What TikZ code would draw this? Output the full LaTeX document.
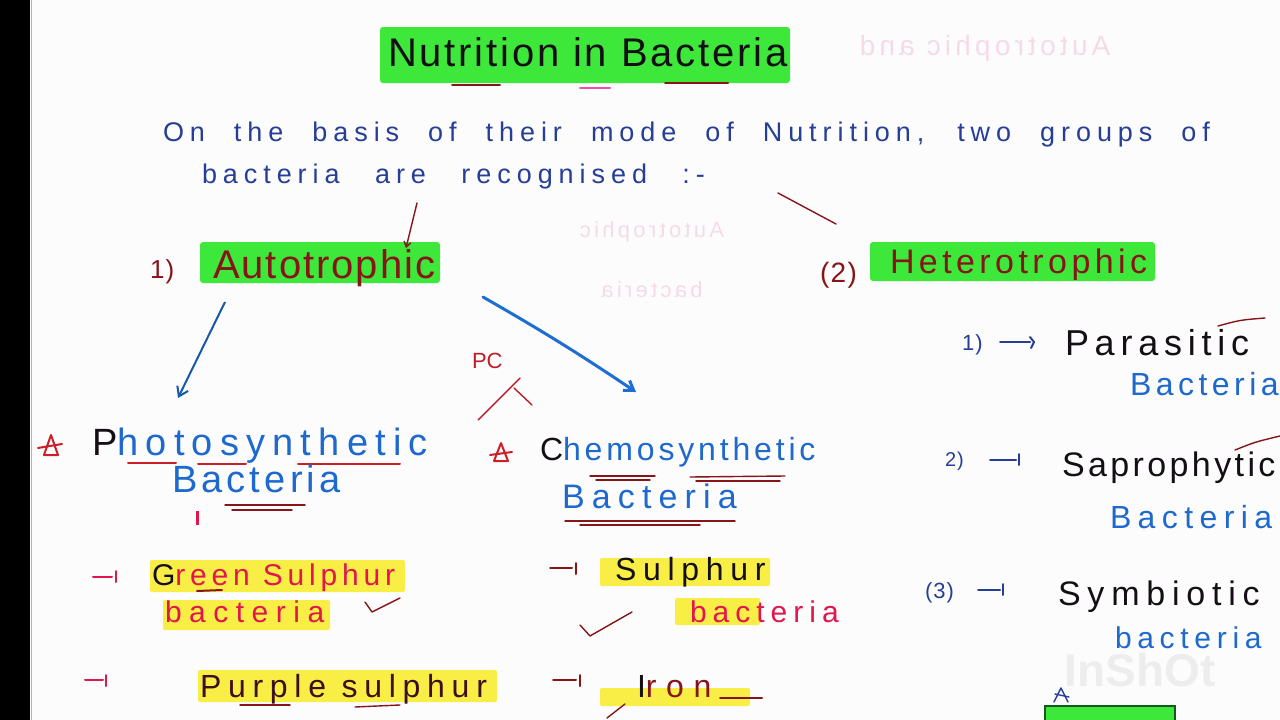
\documentclass[tikz,border=0pt]{standalone}
\usepackage{fontspec}
\setmainfont{Liberation Sans}
\usetikzlibrary{arrows.meta,calc}
\definecolor{greenhl}{RGB}{62,232,58}
\definecolor{darkgreen}{RGB}{20,90,30}
\definecolor{yellowhl}{RGB}{248,238,70}
\definecolor{darkred}{RGB}{135,20,25}
\definecolor{inkred}{RGB}{205,30,40}
\definecolor{parablue}{RGB}{38,62,150}
\definecolor{brightblue}{RGB}{30,105,205}
\definecolor{crimson}{RGB}{226,22,78}
\definecolor{inkblack}{RGB}{20,15,20}
\definecolor{darkink}{RGB}{60,15,25}
\definecolor{pagebg}{RGB}{252,252,252}
\definecolor{faintpink}{RGB}{232,140,185}
\definecolor{arrowblue}{RGB}{30,110,210}
\newcommand\hw[2]{\fontsize{#1}{#1}\selectfont\addfontfeature{LetterSpace=#2}}
\begin{document}
\begin{tikzpicture}[x=1pt,y=-1pt,
  txt/.style={anchor=base west,inner sep=0pt,outer sep=0pt},
  pen/.style={line width=2pt,line cap=round,line join=round},
  thinpen/.style={line width=1.4pt,line cap=round,line join=round},
  ghost/.style={inner sep=0pt,text=faintpink,opacity=.3,xscale=-1},
  hlg/.style={fill=greenhl,rounded corners=3pt},
  hly/.style={fill=yellowhl,rounded corners=2pt}]
\useasboundingbox (0,0) rectangle (1280,720);
\fill[pagebg] (0,0) rectangle (1280,720);
\fill[black] (0,0) rectangle (30,720);
\draw[gray!60,line width=1pt] (31,0) -- (31,720);

% faint bleed-through text
\node[ghost,font=\hw{28}{15}] (g1) at (985,48) {Autotrophic and};
\node[ghost,font=\hw{22}{15}] (g2) at (652,232) {Autotrophic};
\node[ghost,font=\hw{22}{15}] (g3) at (652,290) {bacteria};

% title
\fill[hlg] (380,27) rectangle (790,83);
\node[txt,text=inkblack,font=\hw{40}{7}] (title) at (388,66) {Nutrition in Bacteria};
\draw[pen,darkred] (452,85) -- (500,85);
\draw[pen,magenta!70] (580,88) -- (610,88);
\draw[pen,darkred] (665,83) -- (728,83);

% paragraph
\node[txt,text=parablue,font=\hw{27}{22}] (p1) at (163,141)
  {\makebox[1047pt][s]{On the basis of their mode of Nutrition, two groups of}};
\node[txt,text=parablue,font=\hw{27}{22}] (p2) at (202,183)
  {\makebox[503pt][s]{bacteria are recognised :-}};

% Autotrophic
\fill[hlg] (200,242) rectangle (440,283);
\node[txt,text=darkred,font=\hw{26}{5}] (n1) at (150,278) {1)};
\node[txt,text=darkred,font=\hw{40}{5}] (auto) at (213,278) {Autotrophic};
\coordinate (tkA) at (417,203);
\coordinate (tkB) at (406,248);
\draw[thinpen,darkred,-{Straight Barb[length=5pt,width=7pt]}] (tkA) -- (tkB);
\coordinate (slA) at (778,193);
\coordinate (slB) at (836,224);
\draw[thinpen,darkred] (slA) -- (slB);

% Heterotrophic
\fill[hlg] (870,242) rectangle (1155,281);
\node[txt,text=darkred,font=\hw{28}{5}] (n2) at (820,282) {(2)};
\node[txt,text=darkred,font=\hw{34}{13}] (hetero) at (890,273) {Heterotrophic};

% blue arrows
\coordinate (l1) at (225,302);
\coordinate (l2) at (178,398);
\draw[line width=2pt,arrowblue!80!black,-{Straight Barb[length=9pt,width=12pt]}] (l1) -- (l2);
\coordinate (r1) at (483,297);
\coordinate (r2) at (636,392);
\draw[line width=3pt,arrowblue,line cap=round,-{Straight Barb[length=9pt,width=12pt]}] (r1) to[bend left=2] (r2);

% PC scribble
\node[txt,text=inkred!80!darkred,font=\hw{22}{0}] (pc) at (472,368) {PC};
\coordinate (pcA) at (478,420);
\coordinate (pcB) at (520,378);
\coordinate (pcC) at (514,388);
\coordinate (pcD) at (532,405);
\draw[thinpen,inkred!80!darkred] (pcA) -- (pcB);
\draw[thinpen,inkred!80!darkred] (pcC) -- (pcD);

% star markers
\draw[pen,inkred] (44,455) -- (51,435) -- (58,455) -- cycle;
\draw[pen,inkred] (38,448) -- (62,444);
\draw[pen,inkred] (494,461) -- (501,443) -- (508,461) -- cycle;
\draw[pen,inkred] (490,455) -- (512,452);

% Photosynthetic
\node[txt,font=\hw{38}{19}] (photo) at (92,455)
  {\textcolor{inkblack}{P}\textcolor{brightblue}{hotosynthetic}};
\draw[pen,inkred] (128,463) -- (176,463);
\draw[pen,inkred] (198,464) -- (246,464);
\draw[pen,inkred] (298,464) -- (400,464);
\node[txt,text=brightblue,font=\hw{38}{11}] (photob) at (172,492) {Bacteria};
\draw[thinpen,darkred] (225,505) -- (305,505);
\draw[thinpen,darkred] (232,510) -- (292,510);
\draw[line width=3pt,crimson] (197,511) -- (197,525);

% Chemosynthetic
\node[txt,font=\hw{32}{12}] (chemo) at (540,460)
  {\textcolor{inkblack}{C}\textcolor{brightblue}{hemosynthetic}};
\draw[thinpen,darkred] (590,476) -- (655,476);
\draw[thinpen,darkred] (596,480) -- (650,480);
\draw[thinpen,darkred] (690,477) -- (785,476);
\draw[thinpen,darkred] (696,481) -- (780,481);
\node[txt,text=brightblue,font=\hw{34}{21}] (chemob) at (562,508) {Bacteria};
\draw[thinpen,darkred] (565,521) -- (735,521);
\draw[thinpen,darkred] (580,525) -- (700,525);

% Green sulphur
\fill[hly] (150,560) rectangle (405,592);
\fill[hly] (163,600) rectangle (330,630);
\draw[pen,crimson] (93,577) -- (112,577);
\draw[pen,crimson] (116,571) -- (116,582);
\node[txt,text=crimson,font=\hw{30}{16}] (gs) at (152,585)
  {\textcolor{inkblack}{G}reen Sulphur};
\draw[pen,darkred] (197,591) -- (222,590);
\node[txt,text=crimson,font=\hw{30}{25}] (gsb) at (165,622) {bacteria};
\draw[thinpen,darkred] (365,602) -- (372,612) -- (400,598);

% Sulphur (chemo)
\fill[hly] (600,558) rectangle (770,586);
\fill[hly] (675,598) rectangle (760,625);
\draw[pen,darkred] (550,568) -- (572,568);
\draw[pen,darkred] (576,563) -- (576,574);
\node[txt,text=inkblack,font=\hw{32}{21}] (sul) at (615,580) {Sulphur};
\node[txt,text=crimson,font=\hw{30}{20}] (sulb) at (690,622) {bacteria};
\draw[thinpen,darkred] (580,625) -- (590,636) -- (632,612);

% Purple sulphur
\fill[hly] (198,670) rectangle (497,702);
\draw[pen,crimson] (85,680) -- (103,680);
\draw[pen,crimson] (106,675) -- (106,686);
\node[txt,text=darkink,font=\hw{32}{21}] (ps) at (200,697) {Purple sulphur};
\draw[thinpen,darkred] (240,705) -- (290,705);
\draw[thinpen,darkred] (355,707) -- (400,705);

% Iron
\fill[hly] (600,688) rectangle (750,706);
\draw[pen,darkred] (553,680) -- (576,680);
\draw[pen,darkred] (580,675) -- (580,686);
\node[txt,font=\hw{32}{30}] (iron) at (637,697)
  {\textcolor{inkblack}{I}\textcolor{darkred}{ron}};
\draw[pen,darkred] (720,698) -- (762,698);
\draw[thinpen,darkred] (607,718) -- (625,704);

% right column
\node[txt,text=parablue,font=\hw{22}{5}] (h1) at (962,350) {1)};
\draw[pen,parablue] (1000,342) -- (1030,342);
\draw[pen,parablue] (1030,337) -- (1034,342) -- (1031,348);
\node[txt,text=inkblack,font=\hw{36}{16}] (para) at (1065,355) {Parasitic};
\node[txt,text=brightblue,font=\hw{32}{14}] (parab) at (1130,395) {Bacteria};
\draw[thinpen,darkred] (1218,326) .. controls (1240,320) .. (1265,318);

\node[txt,text=parablue,font=\hw{20}{5}] (h2) at (945,466) {2)};
\draw[pen,parablue] (990,460) -- (1016,460);
\draw[pen,parablue] (1019,454) -- (1019,465);
\node[txt,text=inkblack,font=\hw{34}{10}] (sapro) at (1062,476) {Saprophytic};
\node[txt,text=brightblue,font=\hw{32}{20}] (saprob) at (1110,528) {Bacteria};
\draw[thinpen,darkred] (1235,450) .. controls (1255,442) .. (1280,436);

\node[txt,text=parablue,font=\hw{22}{5}] (h3) at (925,598) {(3)};
\draw[pen,parablue] (978,590) -- (1000,590);
\draw[pen,parablue] (1003,584) -- (1003,595);
\node[txt,text=inkblack,font=\hw{34}{20}] (symb) at (1058,605) {Symbiotic};
\node[txt,text=brightblue,font=\hw{30}{19}] (symbb) at (1115,648) {bacteria};

% watermark
\node[text=gray!40,opacity=.3,font=\fontsize{46}{46}\selectfont\bfseries] (wm) at (1140,670) {InShOt};

% bottom-right box
\draw[fill=greenhl,draw=darkgreen,line width=1.5pt] (1045,706) rectangle (1175,726);
\draw[thinpen,parablue] (1054,702) -- (1061,688) -- (1068,702);
\draw[thinpen,parablue] (1055,694) -- (1069,697);
\end{tikzpicture}
\end{document}
